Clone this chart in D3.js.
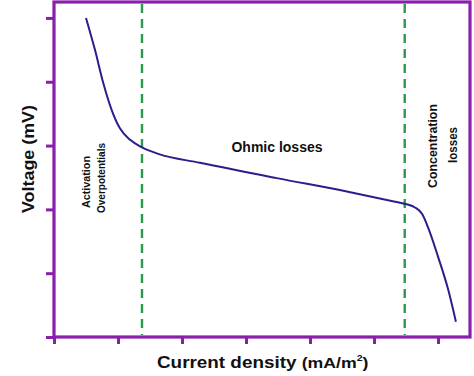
<!DOCTYPE html>
<html><head><meta charset="utf-8">
<script src="https://cdn.jsdelivr.net/npm/d3@7"></script>
<style>html,body{margin:0;padding:0;background:#fff;} svg{display:block;font-family:Arial,"Liberation Sans",Helvetica,sans-serif;}</style>
</head><body>
<svg id="chart" width="474" height="376"></svg>
<script>
// Polarization curve, x = current density, y = voltage (arbitrary units)
const currentDensity = [0.50, 0.64, 0.77, 0.90, 1.03, 1.19, 1.36, 1.63, 2.28, 3.48, 4.63, 5.33, 5.51, 5.64, 5.75, 5.84, 6.00, 6.16, 6.28];
const voltage        = [5.00, 4.50, 3.98, 3.56, 3.27, 3.09, 2.98, 2.87, 2.73, 2.49, 2.27, 2.12, 2.08, 2.03, 1.93, 1.73, 1.26, 0.74, 0.24];
const regionBounds = [1.375, 5.48];
const xTicks = [0, 1, 2, 3, 4, 5, 6];
const yTicks = [0, 1, 2, 3, 4, 5];
const regionLabels = ["Ohmic losses"];

const svg = d3.select("#chart");
const purple = "#8a1fae", green = "#2b9a4c", lineCol = "#2c1d8c";
const x = d3.scaleLinear().domain([0, 6.5]).range([54, 470]);
const y = d3.scaleLinear().domain([0, 5.25]).range([337, 2]);

// axes ticks
const xAxis = d3.axisBottom(x).tickValues(xTicks).tickSize(7).tickFormat("");
const yAxis = d3.axisLeft(y).tickValues(yTicks).tickSize(8).tickFormat("");
const gx = svg.append("g").attr("transform", `translate(0,${y(0)})`).call(xAxis);
const gy = svg.append("g").attr("transform", `translate(${x(0)},0)`).call(yAxis);
[gx, gy].forEach(g => {
  g.select(".domain").remove();
  g.selectAll(".tick line").attr("stroke", purple).attr("stroke-width", 3);
});

// frame
svg.append("rect").attr("x", x(0)).attr("y", y(5.25)).attr("width", x(6.5) - x(0)).attr("height", y(0) - y(5.25))
  .attr("fill", "none").attr("stroke", purple).attr("stroke-width", 3.2);

// region dashed lines
svg.selectAll(".bound").data(regionBounds).join("line")
  .attr("x1", d => x(d)).attr("x2", d => x(d))
  .attr("y1", y(5.25) + 2).attr("y2", y(0) - 2)
  .attr("stroke", green).attr("stroke-width", 2.4).attr("stroke-dasharray", "9,6");

// curve
const pts = currentDensity.map((c, i) => [c, voltage[i]]);
svg.append("path").datum(pts)
  .attr("d", d3.line().x(d => x(d[0])).y(d => y(d[1])).curve(d3.curveMonotoneX))
  .attr("fill", "none").attr("stroke", lineCol).attr("stroke-width", 2);

// labels
svg.append("text").attr("x", 277).attr("y", 152).attr("text-anchor", "middle")
  .attr("font-size", 14).attr("font-weight", "bold").attr("fill", "#111").text(regionLabels[0]);

function vtext(cx, cy, str, size, weight, len) {
  const t = svg.append("text").attr("transform", `translate(${cx},${cy}) rotate(-90)`)
    .attr("text-anchor", "middle").attr("font-size", size).attr("font-weight", weight).attr("fill", "#111").text(str);
  if (len) t.attr("textLength", len).attr("lengthAdjust", "spacingAndGlyphs");
  return t;
}
vtext(90, 182, "Activation", 11.5, "bold", 52);
vtext(105, 178, "Overpotentials", 11, "bold", 70);
vtext(436.5, 146, "Concentration", 12.5, "bold", 84);
vtext(456.5, 145, "losses", 12, "bold", 36);
vtext(34, 159, "Voltage (mV)", 16.5, "bold", 108);

// x axis label
const xl = svg.append("g").attr("transform", "translate(157,368) scale(1.18,1)");
const xt = xl.append("text").attr("font-size", 16).attr("font-weight", "bold").attr("fill", "#111");
xt.append("tspan").text("Current density ");
xt.append("tspan").attr("font-size", 15).text("(mA/m");
xt.append("tspan").attr("font-size", 9).attr("dy", -7).text("2");
xt.append("tspan").attr("font-size", 15).attr("dy", 7).text(")");
</script>
</body></html>
